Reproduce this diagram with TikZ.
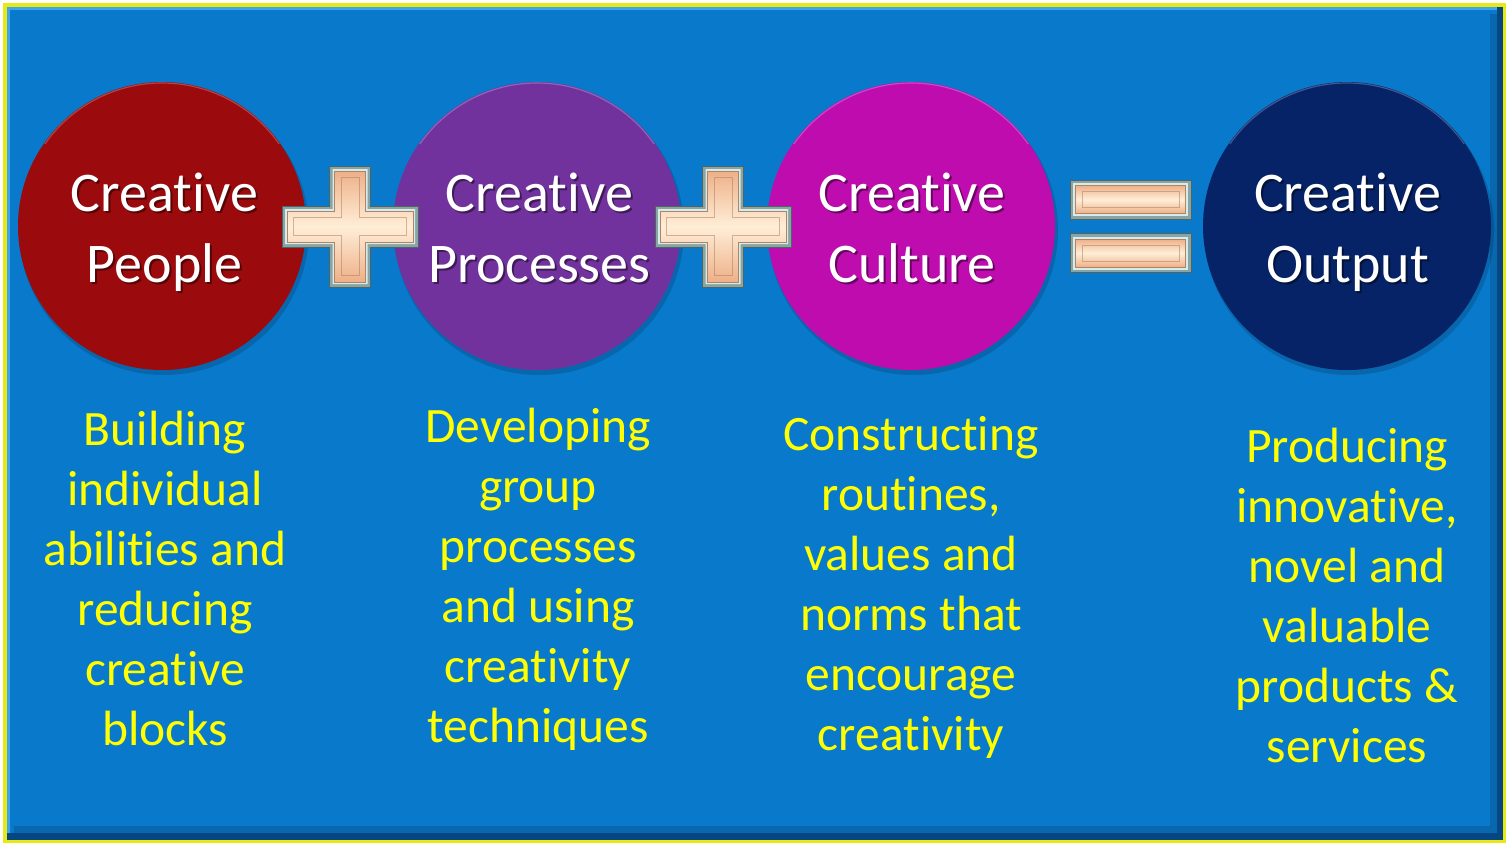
\documentclass[tikz,border=0pt]{standalone}
\usepackage{fontspec}
\setmainfont{Carlito}[Ligatures=NoCommon]
\definecolor{bgblue}{RGB}{9,121,203}
\definecolor{bglight}{RGB}{60,165,235}
\definecolor{bgdark}{RGB}{6,70,130}
\definecolor{bordery}{RGB}{232,232,20}
\definecolor{cred}{RGB}{155,10,12}
\definecolor{cpurple}{RGB}{114,50,158}
\definecolor{cmagenta}{RGB}{190,12,174}
\definecolor{cnavy}{RGB}{6,35,104}
\definecolor{txtyellow}{RGB}{255,255,0}
\definecolor{frameg}{RGB}{135,165,165}
\definecolor{framed}{RGB}{80,100,100}
\definecolor{framel}{RGB}{215,235,235}
\definecolor{peach}{RGB}{238,176,136}
\definecolor{cream}{RGB}{255,238,215}
\newcommand\mycross[5]{(#1-#4,#2-#3) -- (#1-#3,#2-#3) -- (#1-#3,#2-#5) -- (#1+#3,#2-#5) -- (#1+#3,#2-#3) -- (#1+#4,#2-#3) -- (#1+#4,#2+#3) -- (#1+#3,#2+#3) -- (#1+#3,#2+#5) -- (#1-#3,#2+#5) -- (#1-#3,#2+#3) -- (#1-#4,#2+#3) -- cycle}
\tikzset{
  ball/.style={circle, minimum size=288, inner sep=0pt, fill=#1},
  balltitle/.style={font=\fontsize{56}{71}\selectfont, text=white, align=center, anchor=base, inner sep=0pt},
  titleshadow/.style={font=\fontsize{56}{71}\selectfont, text=black, opacity=0.45, align=center, anchor=base, inner sep=0pt},
  desc/.style={font=\fontsize{49.5}{60}\selectfont, text=txtyellow, align=center, anchor=base, inner sep=0pt},
  frameout/.style={fill=frameg, draw=framed, line width=1pt},
  framein/.style={fill=framel},
  bevelface/.style={top color=peach, bottom color=peach, middle color=cream, draw=peach!75!black, line width=0.6pt},
  innerface/.style={draw=peach!70!black, line width=0.6pt, opacity=0.5},
  rim/.style={#1!70!white, line width=1.2pt, opacity=0.8},
}
\begin{document}
\begin{tikzpicture}[x=1pt,y=-1pt]
\useasboundingbox (0,0) rectangle (1509,846);
\fill[white] (0,0) rectangle (1509,846);
% frame
\fill[bordery] (2.5,2.5) rectangle (1506,843);
\fill[bgdark] (6.5,6.5) rectangle (1503,839.5);
\fill[bglight] (6.5,6.5) rectangle (1497,833);
\fill[bgblue] (10,10) rectangle (1497,833);
\fill[bgblue!85!black] (1490,14) rectangle (1497,833);
\fill[bgblue!85!black] (14,826) rectangle (1497,833);

% circle shadows
\foreach \cx in {162,537,911,1347}
  \fill[black, opacity=0.15] (\cx+2,230) circle (145);

% circles
\node[ball=cred] (c1) at (162,226) {};
\node[ball=cpurple] (c2) at (537,226) {};
\node[ball=cmagenta] (c3) at (911,226) {};
\node[ball=cnavy] (c4) at (1347,226) {};
\draw[rim=cred] (c1.center) ++(215:143) arc[start angle=215, end angle=325, radius=143];
\draw[rim=cpurple] (c2.center) ++(215:143) arc[start angle=215, end angle=325, radius=143];
\draw[rim=cmagenta] (c3.center) ++(215:143) arc[start angle=215, end angle=325, radius=143];
\draw[rim=cnavy] (c4.center) ++(215:143) arc[start angle=215, end angle=325, radius=143];

% plus signs
\foreach \px in {350,723} {
  \path[frameout] \mycross{\px}{226.5}{20.5}{68}{60.5};
  \path[framein] \mycross{\px}{226.5}{17.5}{65}{57.5};
  \path[bevelface] \mycross{\px}{226.5}{15.5}{63}{55.5};
  \draw[innerface] \mycross{\px}{226.5}{9}{56.5}{49};
}

% equals sign
\foreach \ey in {199.5,253} {
  \path[frameout] (1070,\ey-19.5) rectangle (1191,\ey+19.5);
  \path[framein] (1073,\ey-16.5) rectangle (1188,\ey+16.5);
  \path[bevelface] (1075.5,\ey-14) rectangle (1185.5,\ey+14);
  \draw[innerface] (1082,\ey-8) rectangle (1179,\ey+8);
}

% circle titles (shadow then text); base anchor = last line baseline
\node[titleshadow] at (166.5,284) {Creative\\People};
\node[balltitle] (t1) at (164.5,282) {Creative\\People};
\node[titleshadow] at (541.5,284) {Creative\\Processes};
\node[balltitle] (t2) at (539.5,282) {Creative\\Processes};
\node[titleshadow] at (914,284) {Creative\\Culture};
\node[balltitle] (t3) at (912,282) {Creative\\Culture};
\node[titleshadow] at (1349.5,284) {Creative\\Output};
\node[balltitle] (t4) at (1347.5,282) {Creative\\Output};

% descriptions
\node[desc] (d1) at (165,745) {Building\\individual\\abilities and\\reducing\\creative\\blocks};
\node[desc] (d2) at (538,742) {Developing\\group\\processes\\and using\\creativity\\techniques};
\node[desc] (d3) at (911,750) {Constructing\\routines,\\values and\\norms that\\encourage\\creativity};
\node[desc] (d4) at (1347,762) {Producing\\innovative,\\novel and\\valuable\\products \&\\services};
\end{tikzpicture}
\end{document}
